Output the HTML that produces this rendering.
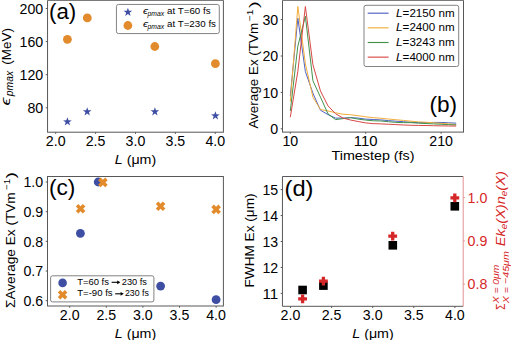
<!DOCTYPE html>
<html><head><meta charset="utf-8"><title>Figure</title><style>html,body{margin:0;padding:0;background:#fff;width:511px;height:340px;overflow:hidden;position:relative;font-family:"Liberation Sans", sans-serif}</style></head><body>
<svg width="511" height="340" viewBox="0 0 511 340" style="position:absolute;left:0;top:0;font-family:'Liberation Sans', sans-serif">
<rect x="0" y="0" width="511" height="340" fill="#fff"/>
<rect x="47.55" y="0.50" width="175.85" height="131.70" fill="none" stroke="#585858" stroke-width="1.0"/>
<line x1="47.05" y1="0.50" x2="223.90" y2="0.50" stroke="#ffffff" stroke-width="1.05"/>
<line x1="47.05" y1="0.50" x2="223.90" y2="0.50" stroke="#7a7a7a" stroke-width="1.0"/>
<line x1="45.75" y1="107.80" x2="47.55" y2="107.80" stroke="#585858" stroke-width="1.0" />
<text x="43.20" y="113.00" font-size="13.80" text-anchor="end" fill="#000" textLength="15.77" lengthAdjust="spacingAndGlyphs" style="">80</text>
<line x1="45.75" y1="74.70" x2="47.55" y2="74.70" stroke="#585858" stroke-width="1.0" />
<text x="43.20" y="79.90" font-size="13.80" text-anchor="end" fill="#000" textLength="23.66" lengthAdjust="spacingAndGlyphs" style="">120</text>
<line x1="45.75" y1="41.60" x2="47.55" y2="41.60" stroke="#585858" stroke-width="1.0" />
<text x="43.20" y="46.80" font-size="13.80" text-anchor="end" fill="#000" textLength="23.66" lengthAdjust="spacingAndGlyphs" style="">160</text>
<line x1="45.75" y1="8.50" x2="47.55" y2="8.50" stroke="#585858" stroke-width="1.0" />
<text x="43.20" y="13.70" font-size="13.80" text-anchor="end" fill="#000" textLength="23.66" lengthAdjust="spacingAndGlyphs" style="">200</text>
<line x1="55.70" y1="132.20" x2="55.70" y2="133.90" stroke="#585858" stroke-width="1.0" />
<text x="55.70" y="145.90" font-size="13.80" text-anchor="middle" fill="#000" textLength="19.72" lengthAdjust="spacingAndGlyphs" style="">2.0</text>
<line x1="95.60" y1="132.20" x2="95.60" y2="133.90" stroke="#585858" stroke-width="1.0" />
<text x="95.60" y="145.90" font-size="13.80" text-anchor="middle" fill="#000" textLength="19.72" lengthAdjust="spacingAndGlyphs" style="">2.5</text>
<line x1="135.50" y1="132.20" x2="135.50" y2="133.90" stroke="#585858" stroke-width="1.0" />
<text x="135.50" y="145.90" font-size="13.80" text-anchor="middle" fill="#000" textLength="19.72" lengthAdjust="spacingAndGlyphs" style="">3.0</text>
<line x1="175.40" y1="132.20" x2="175.40" y2="133.90" stroke="#585858" stroke-width="1.0" />
<text x="175.40" y="145.90" font-size="13.80" text-anchor="middle" fill="#000" textLength="19.72" lengthAdjust="spacingAndGlyphs" style="">3.5</text>
<line x1="215.30" y1="132.20" x2="215.30" y2="133.90" stroke="#585858" stroke-width="1.0" />
<text x="215.30" y="145.90" font-size="13.80" text-anchor="middle" fill="#000" textLength="19.72" lengthAdjust="spacingAndGlyphs" style="">4.0</text>
<text x="135.5" y="164.0" font-size="13.3" text-anchor="middle" textLength="41.5" lengthAdjust="spacingAndGlyphs"><tspan font-style="italic">L</tspan> (μm)</text>
<g transform="translate(11.1 105.5) rotate(-90)"><text x="0" y="-1.6" font-size="13.2" font-style="italic" textLength="8" lengthAdjust="spacingAndGlyphs">ϵ</text><text x="9.3" y="1.4" font-size="11.4" font-style="italic" textLength="25.3" lengthAdjust="spacingAndGlyphs">pmax</text><text x="40.8" y="0" font-size="13.3" textLength="36.6" lengthAdjust="spacingAndGlyphs">(MeV)</text></g>
<text x="49.00" y="18.80" font-size="21.50" text-anchor="start" fill="#000" textLength="27.20" lengthAdjust="spacingAndGlyphs" style="">(a)</text>
<circle cx="67.40" cy="39.30" r="4.40" fill="#e28b2c"/>
<circle cx="87.30" cy="17.90" r="4.40" fill="#e28b2c"/>
<circle cx="154.80" cy="46.50" r="4.40" fill="#e28b2c"/>
<circle cx="215.40" cy="63.70" r="4.40" fill="#e28b2c"/>
<polygon points="67.40,117.25 68.47,120.33 71.73,120.39 69.13,122.36 70.07,125.48 67.40,123.62 64.73,125.48 65.67,122.36 63.07,120.39 66.33,120.33" fill="#3d4ea3"/>
<polygon points="87.20,107.15 88.27,110.23 91.53,110.29 88.93,112.26 89.87,115.38 87.20,113.52 84.53,115.38 85.47,112.26 82.87,110.29 86.13,110.23" fill="#3d4ea3"/>
<polygon points="154.90,107.15 155.97,110.23 159.23,110.29 156.63,112.26 157.57,115.38 154.90,113.52 152.23,115.38 153.17,112.26 150.57,110.29 153.83,110.23" fill="#3d4ea3"/>
<polygon points="215.40,111.25 216.47,114.33 219.73,114.39 217.13,116.36 218.07,119.48 215.40,117.62 212.73,119.48 213.67,116.36 211.07,114.39 214.33,114.33" fill="#3d4ea3"/>
<rect x="116.45" y="4.45" width="102.85" height="29.1" rx="2" ry="2" fill="#fff" fill-opacity="0.8" stroke="#7c7c7c" stroke-width="0.95"/>
<polygon points="127.90,7.65 128.97,10.73 132.23,10.79 129.63,12.76 130.57,15.88 127.90,14.02 125.23,15.88 126.17,12.76 123.57,10.79 126.83,10.73" fill="#3d4ea3"/>
<circle cx="127.90" cy="25.50" r="4.40" fill="#e28b2c"/>
<text x="142.9" y="14.10" font-size="8.8" font-style="italic" textLength="5" lengthAdjust="spacingAndGlyphs">ϵ</text>
<text x="147.6" y="15.50" font-size="7.6" font-style="italic" textLength="16.6" lengthAdjust="spacingAndGlyphs">pmax</text>
<text x="167.0" y="13.8" font-size="8.8" textLength="43.6" lengthAdjust="spacingAndGlyphs">at T=60 fs</text>
<text x="142.9" y="27.10" font-size="8.8" font-style="italic" textLength="5" lengthAdjust="spacingAndGlyphs">ϵ</text>
<text x="147.6" y="28.50" font-size="7.6" font-style="italic" textLength="16.6" lengthAdjust="spacingAndGlyphs">pmax</text>
<text x="167.0" y="26.8" font-size="8.8" textLength="49.0" lengthAdjust="spacingAndGlyphs">at T=230 fs</text>
<rect x="282.50" y="0.50" width="181.00" height="131.60" fill="none" stroke="#585858" stroke-width="1.0"/>
<line x1="282.00" y1="0.50" x2="464.00" y2="0.50" stroke="#ffffff" stroke-width="1.05"/>
<line x1="282.00" y1="0.50" x2="464.00" y2="0.50" stroke="#7a7a7a" stroke-width="1.0"/>
<line x1="280.70" y1="128.80" x2="282.50" y2="128.80" stroke="#585858" stroke-width="1.0" />
<text x="278.20" y="134.00" font-size="13.80" text-anchor="end" fill="#000" textLength="7.89" lengthAdjust="spacingAndGlyphs" style="">0</text>
<line x1="280.70" y1="92.40" x2="282.50" y2="92.40" stroke="#585858" stroke-width="1.0" />
<text x="278.20" y="97.60" font-size="13.80" text-anchor="end" fill="#000" textLength="15.77" lengthAdjust="spacingAndGlyphs" style="">10</text>
<line x1="280.70" y1="56.00" x2="282.50" y2="56.00" stroke="#585858" stroke-width="1.0" />
<text x="278.20" y="61.20" font-size="13.80" text-anchor="end" fill="#000" textLength="15.77" lengthAdjust="spacingAndGlyphs" style="">20</text>
<line x1="280.70" y1="19.60" x2="282.50" y2="19.60" stroke="#585858" stroke-width="1.0" />
<text x="278.20" y="24.80" font-size="13.80" text-anchor="end" fill="#000" textLength="15.77" lengthAdjust="spacingAndGlyphs" style="">30</text>
<line x1="290.30" y1="132.10" x2="290.30" y2="133.80" stroke="#585858" stroke-width="1.0" />
<text x="290.30" y="145.90" font-size="13.80" text-anchor="middle" fill="#000" textLength="15.77" lengthAdjust="spacingAndGlyphs" style="">10</text>
<line x1="365.70" y1="132.10" x2="365.70" y2="133.80" stroke="#585858" stroke-width="1.0" />
<text x="365.70" y="145.90" font-size="13.80" text-anchor="middle" fill="#000" textLength="23.66" lengthAdjust="spacingAndGlyphs" style="">110</text>
<line x1="441.10" y1="132.10" x2="441.10" y2="133.80" stroke="#585858" stroke-width="1.0" />
<text x="441.10" y="145.90" font-size="13.80" text-anchor="middle" fill="#000" textLength="23.66" lengthAdjust="spacingAndGlyphs" style="">210</text>
<text x="373.0" y="159.8" font-size="13.3" text-anchor="middle" textLength="83" lengthAdjust="spacingAndGlyphs">Timestep (fs)</text>
<g transform="translate(257.6 128.6) rotate(-90)"><text x="0" y="0" font-size="13.3" textLength="105.8" lengthAdjust="spacingAndGlyphs">Average Ex (TVm</text><text x="107.4" y="-4.4" font-size="9.2" textLength="11.6" lengthAdjust="spacingAndGlyphs">−1</text><text x="120.6" y="0" font-size="13.3" textLength="6.8" lengthAdjust="spacingAndGlyphs">)</text></g>
<text x="429.40" y="112.00" font-size="21.50" text-anchor="start" fill="#000" textLength="27.60" lengthAdjust="spacingAndGlyphs" style="">(b)</text>
<polyline points="290.30,96.04 297.84,18.14 305.38,71.65 312.92,93.13 320.46,110.24 328.00,114.60 335.54,118.10 343.08,118.10 350.62,117.63 358.16,118.10 365.70,119.12 373.24,119.52 380.78,119.88 388.32,120.61 395.86,121.16 403.40,121.70 410.94,122.25 418.48,122.68 426.02,122.61 433.56,122.43 441.10,122.43 448.64,122.79 456.18,123.16" fill="none" stroke="#5062c4" stroke-width="1.0" stroke-linejoin="round"/>
<polyline points="290.30,101.50 297.84,6.50 305.38,63.64 312.92,97.13 320.46,109.51 328.00,110.96 335.54,112.78 343.08,114.24 350.62,114.71 358.16,115.70 365.70,116.79 373.24,117.70 380.78,118.24 388.32,118.97 395.86,119.70 403.40,120.43 410.94,121.16 418.48,121.88 426.02,122.25 433.56,122.72 441.10,123.34 448.64,123.89 456.18,124.61" fill="none" stroke="#f2ae3c" stroke-width="1.0" stroke-linejoin="round"/>
<polyline points="290.30,110.96 297.84,46.17 305.38,16.32 312.92,80.75 320.46,97.13 328.00,113.88 335.54,119.59 343.08,118.61 350.62,117.63 358.16,119.12 365.70,120.06 373.24,120.79 380.78,120.97 388.32,121.70 395.86,122.43 403.40,122.61 410.94,122.61 418.48,123.16 426.02,123.52 433.56,123.89 441.10,124.25 448.64,124.61 456.18,124.98" fill="none" stroke="#42924c" stroke-width="1.0" stroke-linejoin="round"/>
<polyline points="290.30,117.15 297.84,71.29 305.38,6.50 312.92,64.74 320.46,90.94 328.00,105.87 335.54,113.69 343.08,118.10 350.62,120.06 358.16,121.52 365.70,122.90 373.24,123.63 380.78,123.89 388.32,124.25 395.86,124.61 403.40,124.98 410.94,125.27 418.48,125.45 426.02,125.52 433.56,125.71 441.10,125.89 448.64,125.96 456.18,126.07" fill="none" stroke="#d84846" stroke-width="1.0" stroke-linejoin="round"/>
<rect x="364.0" y="5.3" width="94.7" height="61.2" rx="2" ry="2" fill="#fff" fill-opacity="0.8" stroke="#7c7c7c" stroke-width="0.95"/>
<line x1="367.70" y1="13.20" x2="388.60" y2="13.20" stroke="#5062c4" stroke-width="1.15" />
<text x="396.1" y="16.80" font-size="11.6"><tspan font-style="italic" textLength="6.6" lengthAdjust="spacingAndGlyphs">L</tspan><tspan x="402.6" textLength="52" lengthAdjust="spacingAndGlyphs">=2150 nm</tspan></text>
<line x1="367.70" y1="27.85" x2="388.60" y2="27.85" stroke="#f2ae3c" stroke-width="1.15" />
<text x="396.1" y="31.45" font-size="11.6"><tspan font-style="italic" textLength="6.6" lengthAdjust="spacingAndGlyphs">L</tspan><tspan x="402.6" textLength="52" lengthAdjust="spacingAndGlyphs">=2400 nm</tspan></text>
<line x1="367.70" y1="42.50" x2="388.60" y2="42.50" stroke="#42924c" stroke-width="1.15" />
<text x="396.1" y="46.10" font-size="11.6"><tspan font-style="italic" textLength="6.6" lengthAdjust="spacingAndGlyphs">L</tspan><tspan x="402.6" textLength="52" lengthAdjust="spacingAndGlyphs">=3243 nm</tspan></text>
<line x1="367.70" y1="57.15" x2="388.60" y2="57.15" stroke="#d84846" stroke-width="1.15" />
<text x="396.1" y="60.75" font-size="11.6"><tspan font-style="italic" textLength="6.6" lengthAdjust="spacingAndGlyphs">L</tspan><tspan x="402.6" textLength="52" lengthAdjust="spacingAndGlyphs">=4000 nm</tspan></text>
<rect x="47.50" y="176.50" width="175.90" height="129.50" fill="none" stroke="#585858" stroke-width="1.0"/>
<line x1="45.70" y1="300.70" x2="47.50" y2="300.70" stroke="#585858" stroke-width="1.0" />
<text x="43.20" y="305.90" font-size="13.80" text-anchor="end" fill="#000" textLength="19.72" lengthAdjust="spacingAndGlyphs" style="">0.6</text>
<line x1="45.70" y1="271.03" x2="47.50" y2="271.03" stroke="#585858" stroke-width="1.0" />
<text x="43.20" y="276.23" font-size="13.80" text-anchor="end" fill="#000" textLength="19.72" lengthAdjust="spacingAndGlyphs" style="">0.7</text>
<line x1="45.70" y1="241.35" x2="47.50" y2="241.35" stroke="#585858" stroke-width="1.0" />
<text x="43.20" y="246.55" font-size="13.80" text-anchor="end" fill="#000" textLength="19.72" lengthAdjust="spacingAndGlyphs" style="">0.8</text>
<line x1="45.70" y1="211.67" x2="47.50" y2="211.67" stroke="#585858" stroke-width="1.0" />
<text x="43.20" y="216.87" font-size="13.80" text-anchor="end" fill="#000" textLength="19.72" lengthAdjust="spacingAndGlyphs" style="">0.9</text>
<line x1="45.70" y1="182.00" x2="47.50" y2="182.00" stroke="#585858" stroke-width="1.0" />
<text x="43.20" y="187.20" font-size="13.80" text-anchor="end" fill="#000" textLength="19.72" lengthAdjust="spacingAndGlyphs" style="">1.0</text>
<line x1="69.70" y1="306.00" x2="69.70" y2="307.70" stroke="#585858" stroke-width="1.0" />
<text x="69.70" y="319.80" font-size="13.80" text-anchor="middle" fill="#000" textLength="19.72" lengthAdjust="spacingAndGlyphs" style="">2.0</text>
<line x1="106.30" y1="306.00" x2="106.30" y2="307.70" stroke="#585858" stroke-width="1.0" />
<text x="106.30" y="319.80" font-size="13.80" text-anchor="middle" fill="#000" textLength="19.72" lengthAdjust="spacingAndGlyphs" style="">2.5</text>
<line x1="142.90" y1="306.00" x2="142.90" y2="307.70" stroke="#585858" stroke-width="1.0" />
<text x="142.90" y="319.80" font-size="13.80" text-anchor="middle" fill="#000" textLength="19.72" lengthAdjust="spacingAndGlyphs" style="">3.0</text>
<line x1="179.50" y1="306.00" x2="179.50" y2="307.70" stroke="#585858" stroke-width="1.0" />
<text x="179.50" y="319.80" font-size="13.80" text-anchor="middle" fill="#000" textLength="19.72" lengthAdjust="spacingAndGlyphs" style="">3.5</text>
<line x1="216.10" y1="306.00" x2="216.10" y2="307.70" stroke="#585858" stroke-width="1.0" />
<text x="216.10" y="319.80" font-size="13.80" text-anchor="middle" fill="#000" textLength="19.72" lengthAdjust="spacingAndGlyphs" style="">4.0</text>
<text x="135.5" y="337.9" font-size="13.3" text-anchor="middle" textLength="41.5" lengthAdjust="spacingAndGlyphs"><tspan font-style="italic">L</tspan> (μm)</text>
<g transform="translate(15.3 308.0) rotate(-90)"><text x="0" y="0" font-size="13.3" textLength="115.7" lengthAdjust="spacingAndGlyphs">ΣAverage Ex (TVm</text><text x="118.0" y="-5.1" font-size="9.2" textLength="11.0" lengthAdjust="spacingAndGlyphs">−1</text><text x="129.5" y="0" font-size="13.3" textLength="6.6" lengthAdjust="spacingAndGlyphs">)</text></g>
<text x="49.00" y="195.20" font-size="21.50" text-anchor="start" fill="#000" textLength="26.40" lengthAdjust="spacingAndGlyphs" style="">(c)</text>
<circle cx="80.40" cy="233.30" r="4.40" fill="#3d4ea3"/>
<circle cx="98.20" cy="182.00" r="4.40" fill="#3d4ea3"/>
<circle cx="160.60" cy="286.10" r="4.40" fill="#3d4ea3"/>
<circle cx="216.10" cy="299.70" r="4.40" fill="#3d4ea3"/>
<g transform="translate(80.60 208.80) rotate(45)"><polygon points="-1.80,-5.00 1.80,-5.00 1.80,-1.80 5.00,-1.80 5.00,1.80 1.80,1.80 1.80,5.00 -1.80,5.00 -1.80,1.80 -5.00,1.80 -5.00,-1.80 -1.80,-1.80" fill="#e28b2c"/></g>
<g transform="translate(102.90 182.40) rotate(45)"><polygon points="-1.80,-5.00 1.80,-5.00 1.80,-1.80 5.00,-1.80 5.00,1.80 1.80,1.80 1.80,5.00 -1.80,5.00 -1.80,1.80 -5.00,1.80 -5.00,-1.80 -1.80,-1.80" fill="#e28b2c"/></g>
<g transform="translate(160.60 206.20) rotate(45)"><polygon points="-1.80,-5.00 1.80,-5.00 1.80,-1.80 5.00,-1.80 5.00,1.80 1.80,1.80 1.80,5.00 -1.80,5.00 -1.80,1.80 -5.00,1.80 -5.00,-1.80 -1.80,-1.80" fill="#e28b2c"/></g>
<g transform="translate(216.10 209.40) rotate(45)"><polygon points="-1.80,-5.00 1.80,-5.00 1.80,-1.80 5.00,-1.80 5.00,1.80 1.80,1.80 1.80,5.00 -1.80,5.00 -1.80,1.80 -5.00,1.80 -5.00,-1.80 -1.80,-1.80" fill="#e28b2c"/></g>
<rect x="50.6" y="275.8" width="103.3" height="26.1" rx="2" ry="2" fill="#fff" fill-opacity="0.8" stroke="#7c7c7c" stroke-width="0.95"/>
<circle cx="62.60" cy="282.90" r="4.30" fill="#3d4ea3"/>
<g transform="translate(62.60 294.80) rotate(45)"><polygon points="-1.80,-5.00 1.80,-5.00 1.80,-1.80 5.00,-1.80 5.00,1.80 1.80,1.80 1.80,5.00 -1.80,5.00 -1.80,1.80 -5.00,1.80 -5.00,-1.80 -1.80,-1.80" fill="#e28b2c"/></g>
<text x="77.20" y="284.80" font-size="8.80" text-anchor="start" fill="#000" textLength="31.80" lengthAdjust="spacingAndGlyphs" style="">T=60 fs</text>
<line x1="111.60" y1="282.30" x2="118.20" y2="282.30" stroke="#000" stroke-width="1.1"/>
<polygon points="117.20,280.40 120.40,282.30 117.20,284.20" fill="#000"/>
<text x="121.80" y="284.80" font-size="8.80" text-anchor="start" fill="#000" textLength="25.20" lengthAdjust="spacingAndGlyphs" style="">230 fs</text>
<text x="77.20" y="296.30" font-size="8.80" text-anchor="start" fill="#000" textLength="35.40" lengthAdjust="spacingAndGlyphs" style="">T=-90 fs</text>
<line x1="115.20" y1="293.80" x2="121.60" y2="293.80" stroke="#000" stroke-width="1.1"/>
<polygon points="120.60,291.90 123.80,293.80 120.60,295.70" fill="#000"/>
<text x="124.90" y="296.30" font-size="8.80" text-anchor="start" fill="#000" textLength="24.00" lengthAdjust="spacingAndGlyphs" style="">230 fs</text>
<line x1="282.45" y1="176.50" x2="463.20" y2="176.50" stroke="#585858" stroke-width="1.0" />
<line x1="282.45" y1="176.50" x2="282.45" y2="306.30" stroke="#585858" stroke-width="1.0" />
<line x1="282.45" y1="306.30" x2="463.20" y2="306.30" stroke="#585858" stroke-width="1.0" />
<line x1="463.20" y1="176.50" x2="463.20" y2="306.30" stroke="#e39193" stroke-width="1.0" />
<line x1="280.65" y1="293.40" x2="282.45" y2="293.40" stroke="#585858" stroke-width="1.0" />
<text x="278.20" y="298.60" font-size="13.80" text-anchor="end" fill="#000" textLength="15.77" lengthAdjust="spacingAndGlyphs" style="">11</text>
<line x1="280.65" y1="267.45" x2="282.45" y2="267.45" stroke="#585858" stroke-width="1.0" />
<text x="278.20" y="272.65" font-size="13.80" text-anchor="end" fill="#000" textLength="15.77" lengthAdjust="spacingAndGlyphs" style="">12</text>
<line x1="280.65" y1="241.50" x2="282.45" y2="241.50" stroke="#585858" stroke-width="1.0" />
<text x="278.20" y="246.70" font-size="13.80" text-anchor="end" fill="#000" textLength="15.77" lengthAdjust="spacingAndGlyphs" style="">13</text>
<line x1="280.65" y1="215.55" x2="282.45" y2="215.55" stroke="#585858" stroke-width="1.0" />
<text x="278.20" y="220.75" font-size="13.80" text-anchor="end" fill="#000" textLength="15.77" lengthAdjust="spacingAndGlyphs" style="">14</text>
<line x1="280.65" y1="189.60" x2="282.45" y2="189.60" stroke="#585858" stroke-width="1.0" />
<text x="278.20" y="194.80" font-size="13.80" text-anchor="end" fill="#000" textLength="15.77" lengthAdjust="spacingAndGlyphs" style="">15</text>
<line x1="290.50" y1="306.30" x2="290.50" y2="308.00" stroke="#585858" stroke-width="1.0" />
<text x="290.50" y="319.80" font-size="13.80" text-anchor="middle" fill="#000" textLength="19.72" lengthAdjust="spacingAndGlyphs" style="">2.0</text>
<line x1="331.60" y1="306.30" x2="331.60" y2="308.00" stroke="#585858" stroke-width="1.0" />
<text x="331.60" y="319.80" font-size="13.80" text-anchor="middle" fill="#000" textLength="19.72" lengthAdjust="spacingAndGlyphs" style="">2.5</text>
<line x1="372.70" y1="306.30" x2="372.70" y2="308.00" stroke="#585858" stroke-width="1.0" />
<text x="372.70" y="319.80" font-size="13.80" text-anchor="middle" fill="#000" textLength="19.72" lengthAdjust="spacingAndGlyphs" style="">3.0</text>
<line x1="413.80" y1="306.30" x2="413.80" y2="308.00" stroke="#585858" stroke-width="1.0" />
<text x="413.80" y="319.80" font-size="13.80" text-anchor="middle" fill="#000" textLength="19.72" lengthAdjust="spacingAndGlyphs" style="">3.5</text>
<line x1="454.90" y1="306.30" x2="454.90" y2="308.00" stroke="#585858" stroke-width="1.0" />
<text x="454.90" y="319.80" font-size="13.80" text-anchor="middle" fill="#000" textLength="19.72" lengthAdjust="spacingAndGlyphs" style="">4.0</text>
<line x1="463.20" y1="284.20" x2="464.90" y2="284.20" stroke="#e39193" stroke-width="1.0" />
<text x="467.60" y="289.40" font-size="13.80" text-anchor="start" fill="#d62728" textLength="19.72" lengthAdjust="spacingAndGlyphs" style="">0.8</text>
<line x1="463.20" y1="240.90" x2="464.90" y2="240.90" stroke="#e39193" stroke-width="1.0" />
<text x="467.60" y="246.10" font-size="13.80" text-anchor="start" fill="#d62728" textLength="19.72" lengthAdjust="spacingAndGlyphs" style="">0.9</text>
<line x1="463.20" y1="197.60" x2="464.90" y2="197.60" stroke="#e39193" stroke-width="1.0" />
<text x="467.60" y="202.80" font-size="13.80" text-anchor="start" fill="#d62728" textLength="19.72" lengthAdjust="spacingAndGlyphs" style="">1.0</text>
<text x="373.0" y="337.9" font-size="13.3" text-anchor="middle" textLength="41.5" lengthAdjust="spacingAndGlyphs"><tspan font-style="italic">L</tspan> (μm)</text>
<text transform="translate(254.4 240.5) rotate(-90)" x="0" y="0" font-size="13.3" text-anchor="middle" textLength="94" lengthAdjust="spacingAndGlyphs">FWHM Ex (μm)</text>
<text x="284.60" y="196.10" font-size="21.50" text-anchor="start" fill="#000" textLength="28.90" lengthAdjust="spacingAndGlyphs" style="">(d)</text>
<rect x="298.30" y="285.70" width="8.60" height="8.60" fill="#000"/>
<rect x="319.10" y="281.30" width="8.60" height="8.60" fill="#000"/>
<rect x="388.50" y="241.00" width="8.60" height="8.60" fill="#000"/>
<rect x="450.50" y="202.00" width="8.60" height="8.60" fill="#000"/>
<polygon points="300.95,294.40 304.25,294.40 304.25,297.15 307.00,297.15 307.00,300.45 304.25,300.45 304.25,303.20 300.95,303.20 300.95,300.45 298.20,300.45 298.20,297.15 300.95,297.15" fill="#d62728"/>
<polygon points="321.75,276.80 325.05,276.80 325.05,279.55 327.80,279.55 327.80,282.85 325.05,282.85 325.05,285.60 321.75,285.60 321.75,282.85 319.00,282.85 319.00,279.55 321.75,279.55" fill="#d62728"/>
<polygon points="391.05,231.80 394.35,231.80 394.35,234.55 397.10,234.55 397.10,237.85 394.35,237.85 394.35,240.60 391.05,240.60 391.05,237.85 388.30,237.85 388.30,234.55 391.05,234.55" fill="#d62728"/>
<polygon points="453.15,193.40 456.45,193.40 456.45,196.15 459.20,196.15 459.20,199.45 456.45,199.45 456.45,202.20 453.15,202.20 453.15,199.45 450.40,199.45 450.40,196.15 453.15,196.15" fill="#d62728"/>
<g transform="translate(505.0 309.8) rotate(-90)" fill="#d62728"><text x="0" y="0" font-size="12.2" textLength="6.2" lengthAdjust="spacingAndGlyphs">Σ</text><text x="6.6" y="3.9" font-size="9.4" font-style="italic" textLength="52" lengthAdjust="spacingAndGlyphs">X = −45μm</text><text x="6.6" y="-6.0" font-size="9.4" font-style="italic" textLength="38.5" lengthAdjust="spacingAndGlyphs">X = 0μm</text></g>
<g transform="translate(504.5 308.7) rotate(-90)" fill="#d62728"><text x="62.5" y="0" font-size="13.2" font-style="italic" textLength="75" lengthAdjust="spacingAndGlyphs">Ek<tspan font-size="9" dy="2.5">e</tspan><tspan dy="-2.5">(X)n</tspan><tspan font-size="9" dy="2.5">e</tspan><tspan dy="-2.5">(X)</tspan></text></g>
</svg>
</body></html>
